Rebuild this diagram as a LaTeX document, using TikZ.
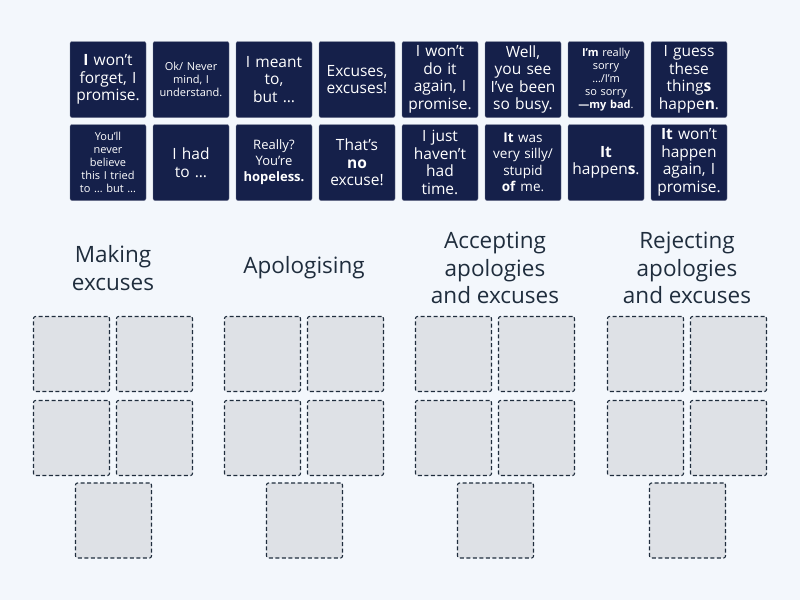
\documentclass[tikz,border=0pt]{standalone}
\usepackage{fontspec}
\setmainfont{Open Sans}
\usetikzlibrary{positioning}
\definecolor{bgcol}{HTML}{F3F7FC}
\definecolor{tilecol}{HTML}{15204A}
\definecolor{slotcol}{HTML}{DEE1E6}
\definecolor{headcol}{HTML}{1F2D3D}
\tikzset{
  tile/.style={draw=tilecol!60!white, fill=tilecol, rounded corners=2pt, minimum width=76pt, minimum height=76pt, text width=74pt, align=center, text=white, inner sep=1pt},
  big/.style={font=\fontsize{15.5}{17.5}\selectfont},
  small/.style={font=\fontsize{11}{13}\selectfont},
  slot/.style={draw=headcol, dash pattern=on 4pt off 2.5pt, line width=1.1pt, fill=slotcol, rounded corners=2pt, minimum width=76pt, minimum height=75pt},
  heading/.style={text=headcol, align=center, font=\fontsize{22.5}{27.5}\selectfont}
}
\begin{document}
\begin{tikzpicture}[x=1pt, y=-1pt]
  \fill[bgcol] (0,0) rectangle (800,600);
  \useasboundingbox (0,0) rectangle (800,600);
  % tiles, top row
  \node[tile, big] (t1) at (108,79.5) {\textbf{I} won't\\ forget, I\\ promise.};
  \node[tile, small] (t2) at (191,79.5) {Ok/ Never\\ mind, I\\ understand.};
  \node[tile, big] (t3) at (274,79.5) {I meant\\ to,\\ but \dots};
  \node[tile, big] (t4) at (357,79.5) {Excuses,\\ excuses!};
  \node[tile, big] (t5) at (440,79.5) {I won't\\ do it\\ again, I\\ promise.};
  \node[tile, big] (t6) at (523,79.5) {Well,\\ you see\\ I've been\\ so busy.};
  \node[tile, small] (t7) at (606,79.5) {\textbf{I'm} really\\ sorry\\ \dots/I'm\\ so sorry\\ \textbf{---my bad}.};
  \node[tile, big] (t8) at (689,79.5) {I guess\\ these\\ thing\textbf{s}\\ happe\textbf{n}.};
  % tiles, bottom row
  \node[tile, small] (b1) at (108,162.5) {You'll\\ never\\ believe\\ this I tried\\ to \dots{} but \dots};
  \node[tile, big] (b2) at (191,162.5) {I had\\ to \dots};
  \node[tile, font=\fontsize{13}{16}\selectfont] (b3) at (274,162.5) {Really?\\ You're\\ \textbf{hopeless.}};
  \node[tile, big] (b4) at (357,162.5) {That's\\ \textbf{no}\\ excuse!};
  \node[tile, big] (b5) at (440,162.5) {I just\\ haven't\\ had\\ time.};
  \node[tile, font=\fontsize{13.5}{16.5}\selectfont] (b6) at (523,162.5) {\textbf{It} was\\ very silly/\\ stupid\\ \textbf{of} me.};
  \node[tile, big] (b7) at (606,162.5) {\textbf{It}\\ happen\textbf{s}.};
  \node[tile, big] (b8) at (689,162.5) {\textbf{It} won't\\ happen\\ again, I\\ promise.};
  % headings
  \node[heading] (h1) at (113,268) {Making\\ excuses};
  \node[heading] (h2) at (304,268) {Apologising};
  \node[heading] (h3) at (495,268) {Accepting\\ apologies\\ and excuses};
  \node[heading] (h4) at (687,268) {Rejecting\\ apologies\\ and excuses};
  % slots
  \foreach \g/\gx in {1/0, 2/191, 3/382, 4/574}{
    \node[slot] (s\g a) at (71.5+\gx,354) {};
    \node[slot] (s\g b) at (154.5+\gx,354) {};
    \node[slot] (s\g c) at (71.5+\gx,438) {};
    \node[slot] (s\g d) at (154.5+\gx,438) {};
    \node[slot] (s\g e) at (113.5+\gx,520.5) {};
  }
\end{tikzpicture}
\end{document}
